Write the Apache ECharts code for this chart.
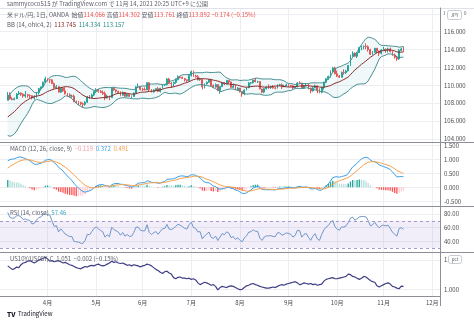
<!DOCTYPE html>
<html>
<head>
<meta charset="utf-8">
<script src="https://cdn.jsdelivr.net/npm/echarts@6/dist/echarts.min.js"></script>
<style>
  html, body { margin: 0; padding: 0; background: #ffffff; }
  #chart { width: 474px; height: 322px; }
</style>
</head>
<body>
<div id="chart"></div>
<script>
// USD/JPY daily bars (OANDA), 2021-01-04 .. 2021-11-12, weekdays only.
// Jan and Feb are only used to warm up the indicators.
const opens = [
  103.20,103.13,102.71,103.03,103.82,103.92,104.25,103.76,103.88,103.85,103.80,103.68,103.87,103.54,103.50,103.78,103.76,103.63,104.08,104.25,
  104.68,104.94,105.03,105.04,105.53,105.39,105.24,104.58,104.59,104.74,104.94,105.40,106.04,105.88,105.70,105.44,105.06,105.30,105.87,106.21,
  106.58,106.76,106.70,107.00,107.98,108.33,108.91,108.48,108.40,108.50,109.03,109.13,109.01,108.80,108.95,108.87,108.84,108.58,108.66,109.19,109.63,109.83,110.34,
  110.72,110.62,110.61,110.20,109.73,109.85,109.24,109.66,109.39,109.07,108.93,108.77,108.79,108.15,108.10,108.07,107.93,107.88,108.12,108.67,108.62,108.92,
  109.31,109.49,109.33,109.20,109.08,108.58,108.80,108.62,109.69,109.49,109.35,109.22,108.89,109.19,108.78,108.97,108.76,108.76,109.14,109.83,109.84,
  109.55,109.50,109.49,110.29,109.52,109.25,109.48,109.63,109.32,109.67,110.06,110.08,110.71,110.22,110.20,110.33,110.65,110.95,110.88,110.76,110.62,110.54,
  111.10,111.52,111.05,110.96,110.63,110.65,109.82,110.15,110.35,110.62,109.97,109.80,110.08,109.44,109.85,110.30,110.15,110.55,110.38,109.77,109.91,109.48,
  109.69,109.30,109.04,109.48,109.76,110.25,110.29,110.59,110.41,110.41,109.59,109.24,109.62,109.77,109.75,109.79,109.70,109.68,110.06,110.06,109.83,109.92,
  110.04,110.00,109.93,109.71,109.83,110.26,110.24,109.70,109.94,110.01,109.68,109.37,109.71,109.94,109.41,109.23,109.79,110.34,110.73,110.99,111.51,111.95,
  111.29,111.05,110.91,111.44,111.42,111.61,112.23,113.26,113.59,113.26,113.66,114.22,114.34,114.35,114.31,114.00,113.47,113.68,114.15,113.83,113.58,
  113.95,114.02,113.96,114.07,113.77,113.40,113.15,112.95,113.91,114.066
];
const highs = [
  103.29,103.21,103.44,103.96,104.09,104.40,104.32,104.00,104.12,104.08,103.90,104.08,103.92,103.70,103.86,103.84,103.79,104.16,104.38,104.94,
  105.00,105.12,105.20,105.58,105.77,105.67,105.28,104.70,104.87,105.08,105.42,106.22,106.22,105.94,105.84,105.55,105.36,106.00,106.36,106.70,
  106.89,106.84,107.16,108.00,108.65,109.24,109.23,108.67,108.64,109.13,109.36,109.20,109.11,109.35,109.05,108.98,108.86,108.90,109.27,109.73,109.83,110.42,110.97,
  110.79,110.68,110.68,110.31,110.04,109.88,109.75,109.79,109.77,109.13,109.10,108.96,108.97,108.30,108.24,108.17,108.07,108.22,108.80,108.91,109.07,109.37,
  109.68,109.61,109.48,109.42,109.31,108.95,108.85,109.79,109.78,109.52,109.38,109.32,109.32,109.26,109.08,108.97,108.88,109.19,109.90,110.20,109.85,
  109.71,109.77,110.33,110.33,109.57,109.54,109.68,109.80,109.71,110.12,110.16,110.82,110.83,110.35,110.40,110.77,111.11,111.02,110.98,110.80,110.62,111.12,
  111.66,111.65,111.19,111.14,110.84,110.69,110.21,110.41,110.70,110.70,110.10,110.21,110.08,109.93,110.37,110.36,110.59,110.58,110.43,110.22,110.09,109.79,
  109.71,109.32,109.54,109.81,110.37,110.36,110.62,110.80,110.51,110.44,109.61,109.67,109.91,110.10,109.96,110.02,109.82,110.12,110.17,110.20,110.06,110.19,
  110.15,110.04,110.00,109.88,110.35,110.45,110.27,110.06,110.16,110.21,109.74,109.84,110.07,109.97,109.66,109.85,110.41,110.80,111.08,111.68,112.07,112.08,
  111.65,111.15,111.53,111.79,111.73,112.25,113.42,113.80,113.69,113.72,114.31,114.46,114.45,114.70,114.47,114.08,113.83,114.18,114.10,113.88,114.03,
  114.30,114.14,114.20,114.23,113.90,113.55,113.30,114.07,114.20,114.302
];
const lows = [
  102.72,102.60,102.59,102.94,103.52,103.68,103.69,103.52,103.63,103.60,103.58,103.56,103.47,103.33,103.40,103.57,103.52,103.56,103.98,104.22,
  104.56,104.82,104.83,104.90,105.20,105.19,104.58,104.43,104.51,104.65,104.86,105.30,105.64,105.51,105.34,104.96,104.92,105.21,105.77,106.10,
  106.43,106.50,106.65,106.98,107.78,108.30,108.40,108.33,108.33,108.47,108.93,108.81,108.61,108.62,108.62,108.56,108.42,108.41,108.62,108.96,109.43,109.71,110.32,
  110.43,110.27,110.16,109.62,109.58,109.20,109.14,109.27,108.96,108.74,108.61,108.61,108.15,107.97,107.79,107.77,107.48,107.71,108.05,108.49,108.55,108.80,
  109.14,109.17,109.13,108.91,108.34,108.51,108.34,108.61,109.38,109.16,109.06,108.79,108.86,108.73,108.70,108.70,108.56,108.70,109.10,109.73,109.42,
  109.37,109.44,109.47,109.34,109.19,109.19,109.41,109.23,109.20,109.63,109.91,109.98,110.13,109.71,109.86,110.17,110.56,110.77,110.72,110.42,110.36,110.44,
  110.98,110.95,110.86,110.55,110.50,109.53,109.65,110.08,110.28,109.94,109.71,109.74,109.35,109.06,109.81,110.01,110.09,110.16,109.76,109.67,109.44,109.36,
  109.19,108.72,108.90,109.43,109.67,110.11,110.20,110.34,110.27,109.55,109.11,109.12,109.53,109.60,109.60,109.63,109.55,109.64,109.92,109.59,109.80,109.86,
  109.84,109.84,109.60,109.68,109.80,110.13,109.60,109.64,109.90,109.53,109.12,109.29,109.68,109.11,109.10,109.12,109.53,110.23,110.62,110.86,111.40,111.23,
  110.93,110.82,110.87,111.21,111.27,111.55,112.17,113.19,113.19,113.05,113.62,113.92,114.03,114.04,113.77,113.41,113.40,113.62,113.60,113.26,113.46,
  113.86,113.65,113.66,113.70,113.30,112.98,112.73,112.85,113.80,113.761
];
const closes = [
  103.13,102.71,103.03,103.82,103.94,104.25,103.76,103.88,103.85,103.86,103.68,103.87,103.54,103.50,103.78,103.76,103.63,104.08,104.25,104.68,
  104.94,105.03,105.04,105.53,105.39,105.24,104.58,104.59,104.74,104.94,105.40,106.04,105.88,105.70,105.44,105.06,105.30,105.87,106.21,106.58,
  106.76,106.70,107.00,107.98,108.33,108.91,108.48,108.40,108.50,109.03,109.13,109.01,108.80,108.95,108.87,108.84,108.58,108.66,109.19,109.63,109.83,110.34,110.72,
  110.62,110.61,110.20,109.73,109.85,109.24,109.66,109.39,109.07,108.93,108.77,108.79,108.15,108.10,108.07,107.93,107.88,108.12,108.67,108.62,108.92,109.31,
  109.49,109.33,109.20,109.08,108.58,108.80,108.62,109.69,109.49,109.35,109.22,108.89,109.19,108.78,108.97,108.76,108.76,109.14,109.83,109.84,109.55,
  109.50,109.49,110.29,109.52,109.25,109.48,109.63,109.32,109.67,110.06,110.08,110.71,110.22,110.20,110.33,110.65,110.95,110.88,110.76,110.62,110.54,111.10,
  111.52,111.05,110.96,110.63,110.65,109.82,110.15,110.35,110.62,109.97,109.80,110.08,109.44,109.85,110.30,110.15,110.55,110.38,109.77,109.91,109.48,109.69,
  109.30,109.04,109.48,109.76,110.25,110.29,110.59,110.41,110.41,109.59,109.24,109.62,109.77,109.75,109.79,109.70,109.68,110.06,110.06,109.83,109.92,110.04,
  110.00,109.93,109.71,109.83,110.26,110.24,109.70,109.94,110.01,109.68,109.37,109.71,109.94,109.41,109.23,109.79,110.34,110.73,110.99,111.51,111.95,111.29,
  111.05,110.91,111.44,111.42,111.61,112.23,113.26,113.59,113.26,113.66,114.22,114.34,114.35,114.31,114.00,113.47,113.68,114.15,113.83,113.58,113.95,
  114.02,113.96,114.07,113.77,113.40,113.15,112.95,113.91,114.066,113.892
];

// Lower pane series, 2021-03-08 .. 2021-11-12
const ratioValues = [
  1.40,1.37,1.34,1.35,1.38,1.37,1.42,1.45,1.46,1.48,1.49,1.47,1.45,1.47,1.50,1.51,1.53,1.55,
  1.52,1.48,1.49,1.47,1.48,1.49,1.47,1.45,1.46,1.44,1.42,1.41,1.39,1.37,1.36,1.35,1.37,1.39,1.38,1.40,1.41,1.40,
  1.42,1.43,1.41,1.40,1.41,1.43,1.45,1.48,1.46,1.47,1.45,1.44,1.45,1.43,1.41,1.42,1.40,1.42,1.41,1.40,1.38,
  1.40,1.41,1.43,1.42,1.40,1.37,1.34,1.32,1.29,1.27,1.30,1.31,1.28,1.26,1.20,1.18,1.205,1.21,1.19,1.19,1.18,1.19,
  1.17,1.18,1.16,1.11,1.08,1.10,1.12,1.11,1.09,1.07,1.08,1.05,0.99,1.03,1.05,1.04,1.03,1.05,1.06,1.05,1.03,1.01,
  0.995,1.00,1.03,1.06,1.07,1.09,1.10,1.08,1.07,1.05,1.04,1.03,1.02,1.02,1.03,1.04,1.03,1.05,1.07,1.08,1.07,1.09,
  1.10,1.11,1.12,1.13,1.11,1.08,1.09,1.11,1.10,1.09,1.10,1.08,1.09,1.07,1.08,1.09,1.14,1.17,1.18,1.19,1.20,1.18,
  1.18,1.19,1.20,1.21,1.22,1.26,1.25,1.22,1.21,1.19,1.17,1.19,1.22,1.21,1.18,1.15,1.13,1.12,1.06,1.04,1.06,
  1.08,1.10,1.11,1.09,1.05,1.04,1.02,1.01,1.053,1.051
];

// Scale tick values per pane
const priceTicks = [104, 106, 108, 110, 112, 114, 116];
const macdTicks = [-0.5, 0, 0.5, 1, 1.5];
const rsiTicks = [40, 60, 80];
const ratioTicks = [1.0, 1.5];

// ---- calendar ---------------------------------------------------------
function weekdays(from, to) {
  const out = [];
  const d = new Date(from + 'T00:00:00Z');
  const end = new Date(to + 'T00:00:00Z');
  while (d <= end) {
    const w = d.getUTCDay();
    if (w !== 0 && w !== 6) out.push(d.toISOString().slice(0, 10));
    d.setUTCDate(d.getUTCDate() + 1);
  }
  return out;
}
const allDates = weekdays('2021-01-04', '2021-12-06');
const viewStart = allDates.indexOf('2021-03-03');
const drawStart = allDates.indexOf('2021-03-08');
const viewDates = allDates.slice(viewStart);
const nBars = closes.length;

// ---- indicators -------------------------------------------------------
const ohlc4 = closes.map((c, i) => (opens[i] + highs[i] + lows[i] + c) / 4);
const bbBasis = [], bbUpper = [], bbLower = [];
for (let i = 0; i < nBars; i++) {
  if (i < 13) { bbBasis.push(null); bbUpper.push(null); bbLower.push(null); continue; }
  const win = ohlc4.slice(i - 13, i + 1);
  const m = win.reduce((a, b) => a + b, 0) / 14;
  const sd = Math.sqrt(win.reduce((a, b) => a + (b - m) * (b - m), 0) / 14);
  bbBasis.push(m); bbUpper.push(m + 2 * sd); bbLower.push(m - 2 * sd);
}
function ema(src, n) {
  const a = 2 / (n + 1); const out = []; let prev = null;
  src.forEach(v => { prev = prev === null ? v : a * v + (1 - a) * prev; out.push(prev); });
  return out;
}
const ema12 = ema(closes, 12), ema26 = ema(closes, 26);
const macdLine = ema12.map((v, i) => v - ema26[i]);
const signalLine = ema(macdLine, 9);
const histValues = macdLine.map((v, i) => v - signalLine[i]);
const rsi = new Array(nBars).fill(null);
(function () {
  let up = 0, dn = 0;
  for (let i = 1; i <= 14; i++) { const ch = closes[i] - closes[i - 1]; up += Math.max(ch, 0); dn += Math.max(-ch, 0); }
  up /= 14; dn /= 14;
  rsi[14] = dn === 0 ? 100 : 100 - 100 / (1 + up / dn);
  for (let i = 15; i < nBars; i++) {
    const ch = closes[i] - closes[i - 1];
    up = (up * 13 + Math.max(ch, 0)) / 14;
    dn = (dn * 13 + Math.max(-ch, 0)) / 14;
    rsi[i] = dn === 0 ? 100 : 100 - 100 / (1 + up / dn);
  }
})();

// ---- series data on the visible category axis ------------------------
const pts = (arr) => {
  const out = [];
  for (let i = drawStart; i < nBars; i++) out.push([i - viewStart, arr[i]]);
  return out;
};
const candleData = [];
for (let i = drawStart; i < nBars; i++) candleData.push([i - viewStart, opens[i], closes[i], lows[i], highs[i]]);
const bandSpread = bbUpper.map((u, i) => u === null ? null : u - bbLower[i]);
const histData = [];
for (let i = drawStart; i < nBars; i++) {
  const h = histValues[i], p = histValues[i - 1];
  let col;
  if (h >= 0) col = p < h ? '#26a69a' : '#b2dfdb';
  else col = p < h ? '#ffcdd2' : '#ff5252';
  histData.push({ value: [i - viewStart, h], itemStyle: { color: col } });
}
const ratioData = ratioValues.map((v, k) => [drawStart - viewStart + k, v]);

// ---- layout -----------------------------------------------------------
const FONT = "'Noto Sans CJK JP', 'Noto Sans', sans-serif";
const SCALE_W = 34;
const panes = [
  { top: 8, height: 134, min: 103.66, max: 118.65, step: 2, ticks: priceTicks, dec: 3 },
  { top: 142, height: 64, min: -0.668, max: 1.618, step: 0.5, ticks: macdTicks, dec: 3 },
  { top: 206, height: 46, min: 24.3, max: 91.7, step: 20, ticks: rsiTicks, dec: 2 },
  { top: 252, height: 44, min: 0.886, max: 1.637, step: 0.5, ticks: ratioTicks, dec: 3 }
];
const GRID_COLOR = '#eceef2';
const SEP_COLOR = '#8c8f96';
const isMonthStart = (idx) => idx > 0 && viewDates[idx].slice(5, 7) !== viewDates[idx - 1].slice(5, 7);

const grids = panes.map(p => ({ left: 0, right: SCALE_W, top: p.top, height: p.height }));
const xAxes = panes.map((p, k) => ({
  type: 'category', gridIndex: k, data: viewDates, boundaryGap: true,
  axisLine: { show: false }, axisTick: { show: false },
  axisLabel: {
    show: k === 3, interval: (idx) => isMonthStart(idx), margin: 4,
    fontSize: 6, color: '#4c4c4c', fontFamily: FONT,
    formatter: (val) => (+val.slice(5, 7)) + '月'
  },
  splitLine: { show: true, interval: (idx) => isMonthStart(idx), alignWithLabel: true, lineStyle: { color: GRID_COLOR, width: 1 } }
}));
const yAxes = panes.map((p, k) => ({
  type: 'value', gridIndex: k, position: 'right', min: p.min, max: p.max,
  minInterval: p.step, maxInterval: p.step, splitNumber: 4, scale: true,
  axisLine: { show: true, lineStyle: { color: SEP_COLOR, width: 1 } },
  axisTick: { show: false },
  axisLabel: {
    margin: 4, fontSize: 6, color: '#4c4c4c', fontFamily: FONT,
    formatter: (v) => p.ticks.some(t => Math.abs(t - v) < 1e-6) ? v.toFixed(p.dec) : ''
  },
  splitLine: { show: true, lineStyle: { color: GRID_COLOR, width: 1 } }
}));

const lineSeries = (name, data, color, xi, width, extra) => Object.assign({
  name, type: 'line', data, xAxisIndex: xi, yAxisIndex: xi, symbol: 'none', showSymbol: false,
  lineStyle: { color, width: width || 1 }, silent: true, animation: false
}, extra || {});

const series = [
  // Bollinger band fill (stacked lower + spread)
  lineSeries('bbBase', pts(bbLower), 'rgba(0,0,0,0)', 0, 0, { stack: 'bb', lineStyle: { opacity: 0 } }),
  lineSeries('bbFill', pts(bandSpread), 'rgba(0,0,0,0)', 0, 0, {
    stack: 'bb', lineStyle: { opacity: 0 }, areaStyle: { color: 'rgba(33,150,160,0.09)' }
  }),
  {
    name: 'USDJPY', type: 'candlestick', xAxisIndex: 0, yAxisIndex: 0, data: candleData,
    encode: { x: 0, y: [1, 2, 3, 4] }, barWidth: '62%', silent: true,
    itemStyle: { color: '#26a69a', color0: '#ef5350', borderColor: '#26a69a', borderColor0: '#ef5350', borderWidth: 1 }
  },
  lineSeries('bbUpper', pts(bbUpper), '#468f91', 0, 1),
  lineSeries('bbLower', pts(bbLower), '#468f91', 0, 1),
  lineSeries('bbBasis', pts(bbBasis), '#8a2b2b', 0, 1),
  // MACD pane
  {
    name: 'hist', type: 'bar', xAxisIndex: 1, yAxisIndex: 1, data: histData, barWidth: '60%', silent: true
  },
  lineSeries('macd', pts(macdLine), '#3a9fe8', 1, 1),
  lineSeries('signal', pts(signalLine), '#f5a04a', 1, 1),
  // RSI pane
  lineSeries('rsi', pts(rsi), '#6f96c9', 2, 1, {
    markArea: { silent: true, itemStyle: { color: 'rgba(126,87,194,0.10)' }, data: [[{ yAxis: 30 }, { yAxis: 70 }]] },
    markLine: {
      silent: true, symbol: 'none', label: { show: false },
      lineStyle: { color: '#a899cc', type: [3, 3], width: 1 },
      data: [{ yAxis: 70 }, { yAxis: 30 }]
    }
  }),
  // lower pane
  lineSeries('ratio', ratioData, '#3f3f86', 3, 1.2)
];

const rich = (size) => ({
  g: { fontSize: size, color: '#5d606b', fontFamily: FONT },
  r: { fontSize: size, color: '#ef5350', fontFamily: FONT },
  m: { fontSize: size, color: '#8a2b2b', fontFamily: FONT },
  t: { fontSize: size, color: '#2b8c8c', fontFamily: FONT },
  p: { fontSize: size, color: '#f29aa8', fontFamily: FONT },
  b: { fontSize: size, color: '#3a9fe8', fontFamily: FONT },
  o: { fontSize: size, color: '#f5a04a', fontFamily: FONT },
  c: { fontSize: size, color: '#45a8c8', fontFamily: FONT }
});
const titleAt = (text, left, top) => ({
  text, left, top, padding: 0, textStyle: { rich: rich(6), fontSize: 6, fontFamily: FONT, fontWeight: 'normal' }
});

const option = {
  animation: false,
  backgroundColor: '#ffffff',
  textStyle: { fontFamily: FONT },
  grid: grids, xAxis: xAxes, yAxis: yAxes, series,
  title: [
    titleAt('{g|sammycoco515 が TradingView.com で 11月 14, 2021 20:25 UTC+9 に公開}', 7, 1),
    titleAt('{g|米ドル/円, 1日, OANDA  始値}{r|114.066}{g| 高値}{r|114.302}{g| 安値}{r|113.761}{g| 終値}{r|113.892}{r| −0.174 (−0.15%)}', 7, 12),
    titleAt('{g|BB (14, ohlc4, 2)  }{m|113.745}{g|  }{t|114.334}{g|  }{t|113.157}', 7, 22),
    titleAt('{g|MACD (12, 26, close, 9)  }{p|−0.119}{g|  }{b|0.372}{g|  }{o|0.491}', 10, 146),
    titleAt('{g|RSI (14, close)  }{c|57.46}', 10, 210),
    titleAt('{g|US10Y/US05Y, C  1.051  −0.002 (−0.15%)}', 10, 256)
  ],
  graphic: [
    { type: 'line', z: 100, silent: true, shape: { x1: 0, y1: 8.5, x2: 474, y2: 8.5 }, style: { stroke: '#dfe2e8', lineWidth: 1 } },
    { type: 'line', z: 100, silent: true, shape: { x1: 0, y1: 142.5, x2: 474, y2: 142.5 }, style: { stroke: SEP_COLOR, lineWidth: 1 } },
    { type: 'line', z: 100, silent: true, shape: { x1: 0, y1: 206.5, x2: 474, y2: 206.5 }, style: { stroke: SEP_COLOR, lineWidth: 1 } },
    { type: 'line', z: 100, silent: true, shape: { x1: 0, y1: 252.5, x2: 474, y2: 252.5 }, style: { stroke: SEP_COLOR, lineWidth: 1 } },
    { type: 'line', z: 100, silent: true, shape: { x1: 0, y1: 296.5, x2: 440, y2: 296.5 }, style: { stroke: SEP_COLOR, lineWidth: 1 } },
    { type: 'line', z: 100, silent: true, shape: { x1: 440.5, y1: 8, x2: 440.5, y2: 306 }, style: { stroke: SEP_COLOR, lineWidth: 1 } },
    // currency badge on the price scale
    { type: 'text', z: 100, silent: true, style: { x: 443, y: 11, text: '1', fontSize: 4.5, fill: '#5d606b', fontFamily: FONT } },
    { type: 'rect', z: 100, silent: true, shape: { x: 447.5, y: 10.5, width: 14, height: 9, r: 2 }, style: { fill: '#ffffff', stroke: '#c8cbd2', lineWidth: 1 } },
    { type: 'text', z: 101, silent: true, style: { x: 454.5, y: 15, text: 'JPY', fontSize: 4.5, fill: '#5d606b', fontFamily: FONT, align: 'center', verticalAlign: 'middle' } },
    { type: 'text', z: 100, silent: true, style: { x: 464, y: 11, text: '0', fontSize: 4.5, fill: '#5d606b', fontFamily: FONT } },
    // unit badge on the lower scale
    { type: 'rect', z: 100, silent: true, shape: { x: 448.5, y: 255.5, width: 13, height: 8, r: 2 }, style: { fill: '#ffffff', stroke: '#c8cbd2', lineWidth: 1 } },
    { type: 'text', z: 101, silent: true, style: { x: 455, y: 259.5, text: 'pct', fontSize: 4.5, fill: '#5d606b', fontFamily: FONT, align: 'center', verticalAlign: 'middle' } },
    // logo line
    { type: 'text', z: 100, silent: true, style: { x: 7, y: 311, text: 'TV', fontSize: 6.5, fontWeight: 900, fill: '#131722', fontFamily: FONT } },
    { type: 'text', z: 100, silent: true, style: { x: 18, y: 311, text: 'TradingView', fontSize: 6, fill: '#131722', fontFamily: FONT } }
  ]
};

echarts.init(document.getElementById('chart'), null, { renderer: 'canvas' }).setOption(option);
</script>
</body>
</html>
